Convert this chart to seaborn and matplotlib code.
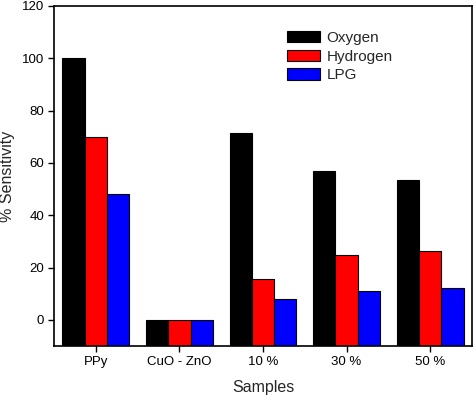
import matplotlib
matplotlib.use("Agg")
import matplotlib.pyplot as plt
import seaborn as sns
import pandas as pd

samples = ["PPy", "CuO - ZnO", "10 %", "30 %", "50 %"]
gases = ["Oxygen", "Hydrogen", "LPG"]
oxygen = [100, 0, 71.3, 57.1, 53.4]
hydrogen = [70, 0, 15.8, 24.8, 26.4]
lpg = [48, 0, 7.8, 11.0, 12.3]
colors = ["#000000", "#ff0000", "#0000ff"]

rows = []
for g, vals in zip(gases, [oxygen, hydrogen, lpg]):
    for s, v in zip(samples, vals):
        rows.append({"Samples": s, "Gas": g, "Sensitivity": v})
df = pd.DataFrame(rows)

sns.set_style("white")
plt.rcParams["font.family"] = ["Liberation Sans", "DejaVu Sans"]

fig = plt.figure(figsize=(4.74, 3.96), dpi=100)
ax = fig.add_axes([54/474, 1-346/396, (472-54)/474, (346-6)/396])
sns.barplot(data=df, x="Samples", y="Sensitivity", hue="Gas", order=samples,
            hue_order=gases, palette=colors, width=0.8, ax=ax,
            edgecolor="black", linewidth=0.8, saturation=1, errorbar=None)

ymin = -10
for p in ax.patches:
    h = p.get_height()
    if p.get_width() > 0 and p.get_x() > -1:
        y0 = p.get_y()
        p.set_y(ymin)
        p.set_height(y0 + h - ymin)

ax.set_ylim(-10, 120)
ax.set_xlim(-0.5, 4.5)
ax.set_yticks(range(0, 121, 20))
ax.tick_params(axis="both", direction="out", length=4, width=1, labelsize=9.5,
               left=True, bottom=True, colors="black", pad=3)
for s in ax.spines.values():
    s.set_color("black")
    s.set_linewidth(1.2)
ax.set_xlabel("Samples", fontsize=11.5)
ax.set_ylabel("% Sensitivity", fontsize=11.5)
ax.yaxis.set_label_coords(-0.093, 0.5)
ax.xaxis.set_label_coords(0.5, -0.1)

leg = ax.legend(loc="upper left", bbox_to_anchor=(0.542, 0.945), frameon=False,
                fontsize=11, handlelength=2.2, handleheight=0.8,
                labelspacing=0.3, handletextpad=0.4, borderaxespad=0)
for h in leg.legend_handles:
    h.set_edgecolor("black")

fig.savefig("out.png", dpi=100)
